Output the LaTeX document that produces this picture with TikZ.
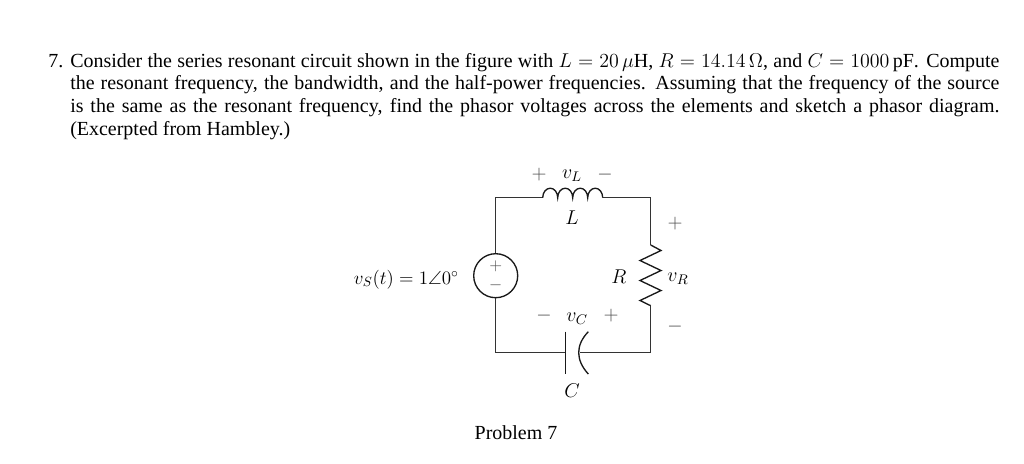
\RequirePackage{fix-cm}
\documentclass[tikz,border=0pt]{standalone}
\usepackage{amssymb}
\usepackage{fontspec}
\setmainfont{Liberation Serif}
\usepackage{tikz}
\tikzset{
  wire/.style={line width=.65pt, black!80},
  part/.style={line width=.95pt, black!90},
  txt/.style={inner sep=0pt, font=\fontsize{14.2}{16.2}\selectfont},
  sign/.style={inner sep=0pt, font=\fontsize{14}{16}\selectfont, black!70},
  srcsign/.style={inner sep=0pt, font=\fontsize{12}{14}\selectfont, black!70}
}
\begin{document}
\begin{tikzpicture}[x=.025cm, y=-.025cm]
      \useasboundingbox (0,0) rectangle (1024,463);
      \node[txt, anchor=base west] (num) at (48,67) {7.};
      \node[txt, anchor=base west, text width=23.225cm, align=justify] (body) at (70,67) {Consider the series resonant circuit shown in the figure with $L=20\,\mu\mathrm{H}$, $R=14.14\,\Omega$, and $C=1000\,\mathrm{pF}$. Compute\linebreak the resonant frequency, the bandwidth, and the half-power frequencies. Assuming that the frequency of the source\linebreak is the same as the resonant frequency, find the phasor voltages across the elements and sketch a phasor diagram.\linebreak (Excerpted from Hambley.)};
      \coordinate (tl) at (495.7,197.7);
      \coordinate (tr) at (650.7,197.7);
      \coordinate (br) at (650.7,352.7);
      \coordinate (bl) at (495.7,352.7);
      \coordinate (la) at (542.7,197.7);
      \coordinate (lb) at (602.7,197.7);
      \coordinate (ra) at (650.7,245);
      \coordinate (rb) at (650.7,305.7);
      \coordinate (ca) at (565.7,352.7);
      \coordinate (cb) at (580,352.7);
      \node[circle, draw, part, minimum size=1.1cm, inner sep=0pt] (vs) at (495.7,275.7) {};
      \draw[wire] (vs) -- (tl) -- (la);
      \draw[wire] (lb) -- (tr) -- (ra);
      \draw[wire] (rb) -- (br) -- (cb);
      \draw[wire] (ca) -- (bl) -- (vs);
      \draw[part] (la) arc[start angle=180, end angle=360, x radius=7.5, y radius=9.5]
        arc[start angle=180, end angle=360, x radius=7.5, y radius=9.5]
        arc[start angle=180, end angle=360, x radius=7.5, y radius=9.5]
        arc[start angle=180, end angle=360, x radius=7.5, y radius=9.5];
      \draw[part] (ra) -- (661,250.5) -- (640,260.5) -- (661,270.5) -- (640,280.5) -- (661,290.5) -- (640,300.5) -- (rb);
      \draw[part] (565.7,331.7) -- (565.7,374);
      \draw[part] (588.3,331.7) .. controls (575.5,345) and (575.5,360) .. (588.3,374);
      \node[srcsign] (vsp) at (495.7,266.5) {$+$};
      \node[srcsign] (vsm) at (495.7,285) {$-$};
      \node[txt, anchor=base east, font=\fontsize{13.5}{16}\selectfont] (vslab) at (459,284) {$v_S(t)=1\angle 0^\circ$};
      \node[sign] (lp) at (539,175) {$+$};
      \node[txt] (vl) at (572,176) {$v_L$};
      \node[sign] (lm) at (605,175) {$-$};
      \node[txt] (ll) at (572,218) {$L$};
      \node[sign] (rp) at (675,224) {$+$};
      \node[txt] (rl) at (619,277) {$R$};
      \node[txt] (vr) at (678,279) {$v_R$};
      \node[sign] (rm) at (675,327) {$-$};
      \node[sign] (cm) at (544,316) {$-$};
      \node[txt] (vc) at (577,319) {$v_C$};
      \node[sign] (cp) at (611,316) {$+$};
      \node[txt] (cl) at (572,391) {$C$};
      \node[txt, anchor=base] (prob) at (516,439.5) {Problem 7};
    \end{tikzpicture}
\end{document}
